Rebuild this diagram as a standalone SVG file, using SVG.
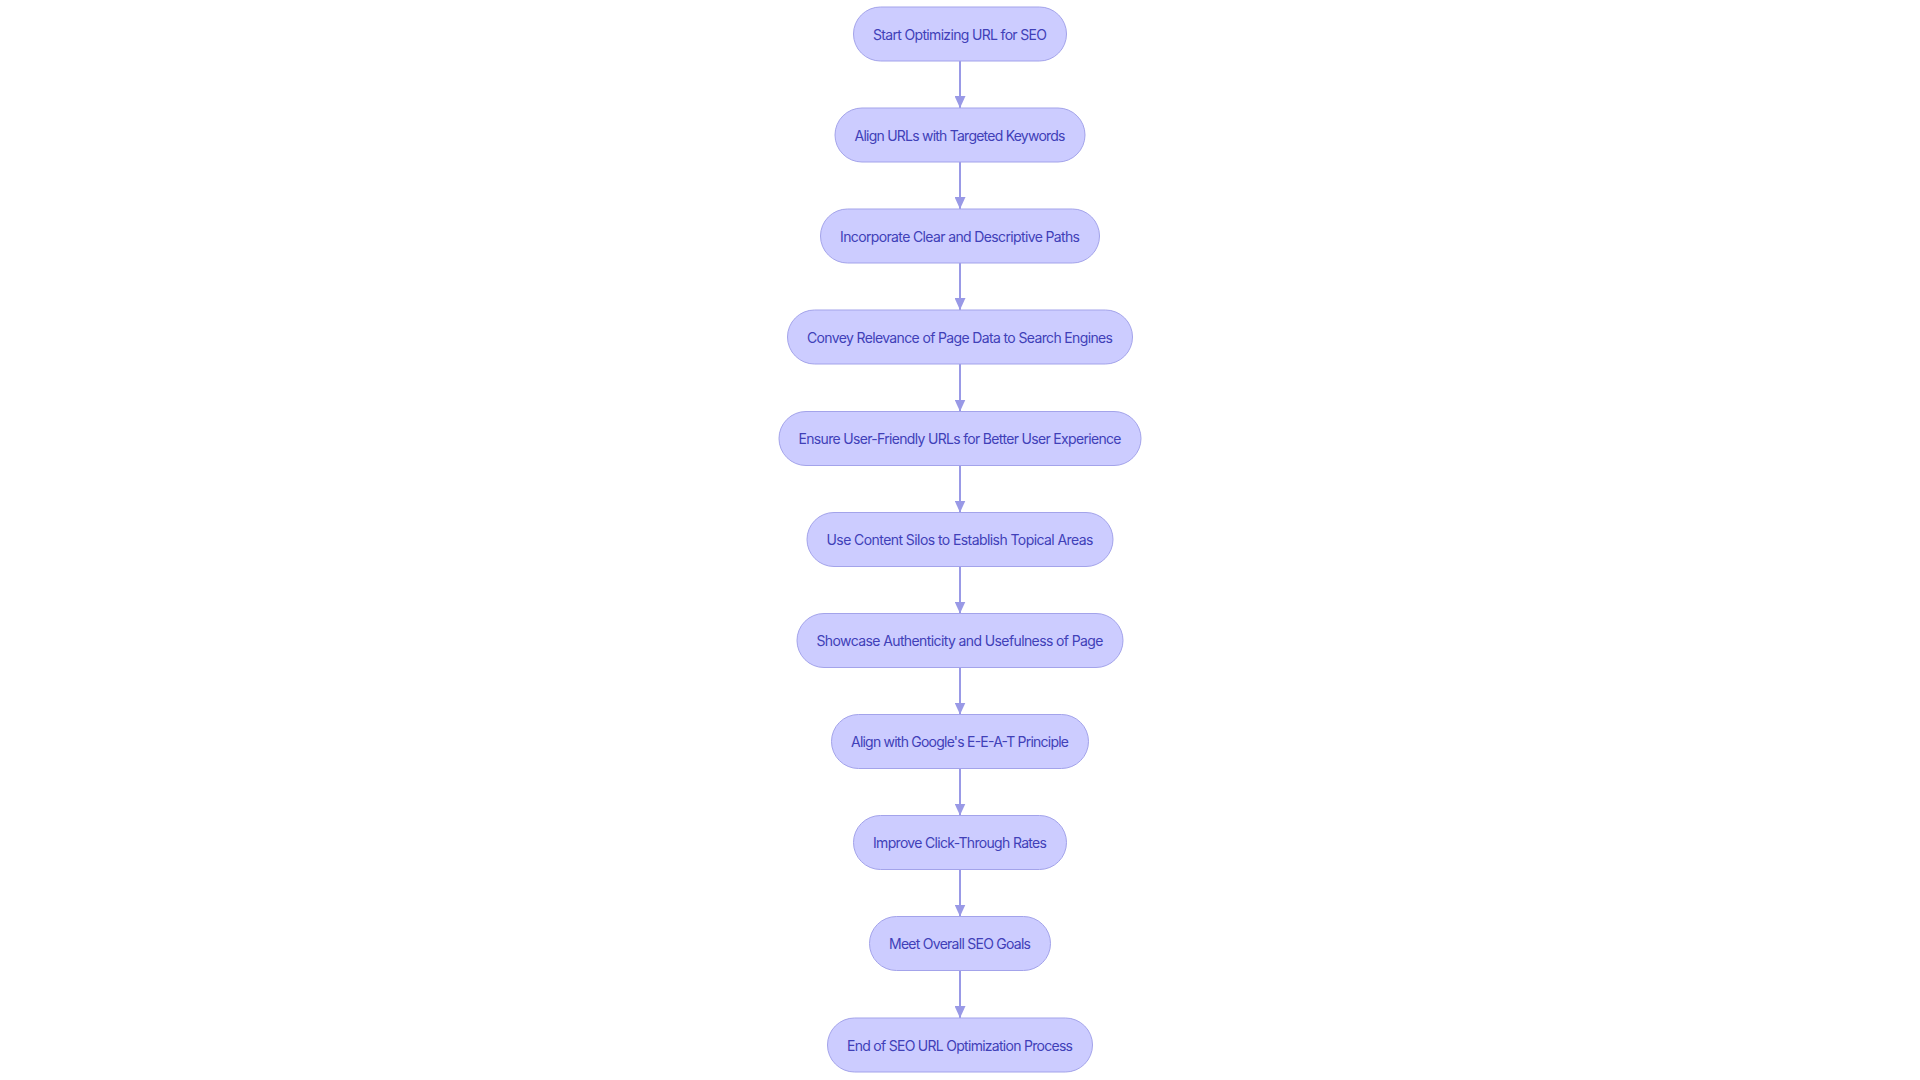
<svg xmlns="http://www.w3.org/2000/svg" width="1920" height="1080" viewBox="0 0 1920 1080">
<defs>
<marker id="arrow" viewBox="0 0 12 11" refX="12" refY="5.5" markerWidth="12" markerHeight="11" markerUnits="userSpaceOnUse" orient="auto">
<path d="M0,0 L12,5.5 L0,11 Z" fill="#9999E6"/>
</marker>
<style>
.node rect{fill:#CCCCFF;stroke:#A3A3EA;stroke-width:1}
.node text{font-family:Inter,"Liberation Sans",sans-serif;font-size:14px;font-weight:400;fill:#4040B8;text-anchor:middle;dominant-baseline:central}
.edge{stroke:#9999E6;stroke-width:2;fill:none}
</style>
</defs>
<rect width="1920" height="1080" fill="#FFFFFF"/>
<g id="edges">
<line class="edge" x1="960" y1="61" x2="960" y2="108" marker-end="url(#arrow)"/>
<line class="edge" x1="960" y1="162" x2="960" y2="209" marker-end="url(#arrow)"/>
<line class="edge" x1="960" y1="263" x2="960" y2="310" marker-end="url(#arrow)"/>
<line class="edge" x1="960" y1="364" x2="960" y2="411.5" marker-end="url(#arrow)"/>
<line class="edge" x1="960" y1="465.5" x2="960" y2="512.5" marker-end="url(#arrow)"/>
<line class="edge" x1="960" y1="566.5" x2="960" y2="613.5" marker-end="url(#arrow)"/>
<line class="edge" x1="960" y1="667.5" x2="960" y2="714.5" marker-end="url(#arrow)"/>
<line class="edge" x1="960" y1="768.5" x2="960" y2="815.5" marker-end="url(#arrow)"/>
<line class="edge" x1="960" y1="869.5" x2="960" y2="916.5" marker-end="url(#arrow)"/>
<line class="edge" x1="960" y1="970.5" x2="960" y2="1018" marker-end="url(#arrow)"/>
</g>
<g id="n1" class="node"><rect x="853.5" y="7" width="213" height="54" rx="27"/><text x="960" y="34" textLength="174" lengthAdjust="spacing">Start Optimizing URL for SEO</text></g>
<g id="n2" class="node"><rect x="835" y="108" width="250" height="54" rx="27"/><text x="960" y="135" textLength="211" lengthAdjust="spacing">Align URLs with Targeted Keywords</text></g>
<g id="n3" class="node"><rect x="820.5" y="209" width="279" height="54" rx="27"/><text x="960" y="236" textLength="240" lengthAdjust="spacing">Incorporate Clear and Descriptive Paths</text></g>
<g id="n4" class="node"><rect x="787.5" y="310" width="345" height="54" rx="27"/><text x="960" y="337" textLength="306" lengthAdjust="spacing">Convey Relevance of Page Data to Search Engines</text></g>
<g id="n5" class="node"><rect x="779" y="411.5" width="362" height="54" rx="27"/><text x="960" y="438.5" textLength="323" lengthAdjust="spacing">Ensure User-Friendly URLs for Better User Experience</text></g>
<g id="n6" class="node"><rect x="807" y="512.5" width="306" height="54" rx="27"/><text x="960" y="539.5" textLength="267" lengthAdjust="spacing">Use Content Silos to Establish Topical Areas</text></g>
<g id="n7" class="node"><rect x="797" y="613.5" width="326" height="54" rx="27"/><text x="960" y="640.5" textLength="287" lengthAdjust="spacing">Showcase Authenticity and Usefulness of Page</text></g>
<g id="n8" class="node"><rect x="831.5" y="714.5" width="257" height="54" rx="27"/><text x="960" y="741.5" textLength="218" lengthAdjust="spacing">Align with Google's E-E-A-T Principle</text></g>
<g id="n9" class="node"><rect x="853.5" y="815.5" width="213" height="54" rx="27"/><text x="960" y="842.5" textLength="174" lengthAdjust="spacing">Improve Click-Through Rates</text></g>
<g id="n10" class="node"><rect x="869.5" y="916.5" width="181" height="54" rx="27"/><text x="960" y="943.5" textLength="142" lengthAdjust="spacing">Meet Overall SEO Goals</text></g>
<g id="n11" class="node"><rect x="827.5" y="1018" width="265" height="54" rx="27"/><text x="960" y="1045" textLength="226" lengthAdjust="spacing">End of SEO URL Optimization Process</text></g>
</svg>
